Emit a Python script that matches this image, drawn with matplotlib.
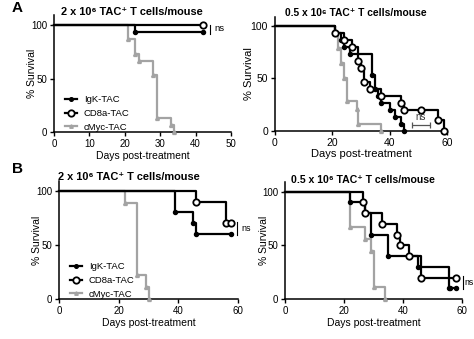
import matplotlib
matplotlib.use("Agg")
import matplotlib.pyplot as plt
from matplotlib.lines import Line2D

plt.rcParams['font.family'] = ['Liberation Sans', 'DejaVu Sans']

# survival curves: time points and % survival after each point (step 'post')
# panel A, 2 x 10^6
a1_igk_t = [0, 23, 42]
a1_igk_s = [100, 93.3, 93.3]
a1_cd8_t = [0, 42]
a1_cd8_s = [100, 100]
a1_myc_t = [0, 21, 23, 24, 28, 29, 33, 34]
a1_myc_s = [100, 86.7, 73.3, 66.7, 53.3, 13.3, 6.7, 0]

# panel A, 0.5 x 10^6
a2_igk_t = [0, 21, 23, 24, 26, 34, 35, 36, 37, 40, 42, 44, 45]
a2_igk_s = [100, 93.3, 86.7, 80, 73.3, 53.3, 40, 33.3, 26.7, 20, 13.3, 6.7, 0]
a2_cd8_t = [0, 21, 24, 27, 29, 30, 31, 33, 37, 44, 45, 51, 57, 59]
a2_cd8_s = [100, 93.3, 86.7, 80, 66.7, 60, 46.7, 40, 33.3, 26.7, 20, 20, 10, 0]
a2_myc_t = [0, 21, 22, 23, 24, 25, 28.5, 29, 37]
a2_myc_s = [100, 92.9, 78.6, 64.3, 50, 28.6, 21.4, 7.1, 0]

# panel B, 2 x 10^6
b1_igk_t = [0, 39, 45, 46, 57.5]
b1_igk_s = [100, 80, 70, 60, 60]
b1_cd8_t = [0, 46, 56, 57.5]
b1_cd8_s = [100, 90, 70, 70]
b1_myc_t = [0, 22, 26, 29, 30]
b1_myc_s = [100, 88.9, 22.2, 11.1, 0]

# panel B, 0.5 x 10^6
b2_igk_t = [0, 22, 27, 29, 35, 45, 55.5, 56, 58]
b2_igk_s = [100, 90, 80, 60, 40, 30, 10, 10, 10]
b2_cd8_t = [0, 26.5, 27, 33, 38, 39, 42, 46, 58]
b2_cd8_s = [100, 90, 80, 70, 60, 50, 40, 20, 20]
b2_myc_t = [0, 22, 27, 29, 30, 34]
b2_myc_s = [100, 66.7, 55.6, 44.4, 11.1, 0]

labels = ['IgK-TAC', 'CD8a-TAC', 'cMyc-TAC']
title_hi = '2 x 10⁶ TAC⁺ T cells/mouse'
title_lo = '0.5 x 10⁶ TAC⁺ T cells/mouse'

GRAY = '#a3a3a3'
W, H = 474, 339
fig = plt.figure(figsize=(W / 100, H / 100), dpi=100)


def make_ax(x0, x1, ytop, ybot):
    # pixel box -> figure fraction
    return fig.add_axes([x0 / W, 1 - ybot / H, (x1 - x0) / W, (ybot - ytop) / H])


def km(ax, t, s, color, marker, mfc, ms, lw=1.6):
    ax.step(t, s, where='post', color=color, lw=lw, zorder=3, clip_on=False)
    ax.plot(t[1:], s[1:], ls='none', marker=marker, color=color, mfc=mfc,
            mec=color, ms=ms, mew=1.3, zorder=4, clip_on=False)


def style(ax, xmax, xstep, fs, ylx, xly):
    ax.set_xlim(0, xmax)
    ax.set_ylim(0, 109)
    ax.set_xticks(range(0, xmax + 1, xstep))
    ax.set_yticks([0, 50, 100])
    for sp in ['top', 'right']:
        ax.spines[sp].set_visible(False)
    for sp in ['left', 'bottom']:
        ax.spines[sp].set_linewidth(1.1)
    ax.tick_params(length=3, width=1, pad=2, labelsize=fs)
    ax.set_xlabel('Days post-treatment', fontsize=fs + 0.5)
    ax.set_ylabel('% Survival', fontsize=fs + 0.5)
    ax.xaxis.set_label_coords(0.5, xly)
    ax.yaxis.set_label_coords(ylx, 0.5)


def draw(ax, data):
    (it, is_), (ct, cs), (mt, ms_) = data
    km(ax, mt, ms_, GRAY, '^', GRAY, 2.5)
    km(ax, it, is_, 'black', 'o', 'black', 2.6)
    km(ax, ct, cs, 'black', 'o', 'white', 4.6)


def legend(ax, y0):
    h = [Line2D([], [], color='black', lw=1.6, marker='o', ms=2.6),
         Line2D([], [], color='black', lw=1.6, marker='o', mfc='white', ms=4.6, mew=1.3),
         Line2D([], [], color=GRAY, lw=1.6, marker='^', ms=2.5)]
    ax.legend(h, labels, loc='lower left', bbox_to_anchor=(0.04, y0), frameon=False,
              fontsize=6.8, handlelength=1.3, handletextpad=0.7, labelspacing=0.5,
              borderaxespad=0)


def title(ax, x, y, txt, fs):
    ax.text(x, y, txt, transform=ax.transAxes, ha='center', va='center',
            fontsize=fs, fontweight='bold')


# A left
ax = make_ax(54, 231, 15.4, 132)
draw(ax, [(a1_igk_t, a1_igk_s), (a1_cd8_t, a1_cd8_s), (a1_myc_t, a1_myc_s)])
style(ax, 50, 10, 7, -0.095, -0.165)
title(ax, 0.44, 1.027, title_hi, 7.9)
legend(ax, -0.03)
ax.plot([44, 44], [92, 100], color='black', lw=0.8, clip_on=False)
ax.text(45.2, 96.5, 'ns', fontsize=6.8, va='center')

# A right
ax = make_ax(275, 447, 16.5, 131)
draw(ax, [(a2_igk_t, a2_igk_s), (a2_cd8_t, a2_cd8_s), (a2_myc_t, a2_myc_s)])
style(ax, 60, 20, 7.5, -0.12, -0.155)
title(ax, 0.47, 1.033, title_lo, 7.4)
ax.errorbar([50.8], [5.7], xerr=[[3.1], [3.1]], color='#555555', lw=0.9,
            capsize=2, capthick=0.9)
ax.text(50.8, 8.5, 'ns', fontsize=7, ha='center', va='bottom', color='#333333')

# B left
ax = make_ax(59, 238, 181, 299)
draw(ax, [(b1_igk_t, b1_igk_s), (b1_cd8_t, b1_cd8_s), (b1_myc_t, b1_myc_s)])
style(ax, 60, 20, 7, -0.093, -0.16)
title(ax, 0.39, 1.031, title_hi, 7.9)
legend(ax, -0.03)
ax.plot([59.5, 59.5], [59, 71], color='black', lw=0.8, clip_on=False)
ax.text(61.3, 65, 'ns', fontsize=6.5, va='center')

# B right
ax = make_ax(285, 462, 182, 299)
draw(ax, [(b2_igk_t, b2_igk_s), (b2_cd8_t, b2_cd8_s), (b2_myc_t, b2_myc_s)])
style(ax, 60, 20, 7, -0.093, -0.16)
title(ax, 0.44, 1.017, title_lo, 7.6)
ax.plot([60.3, 60.3], [9, 21], color='black', lw=0.8, clip_on=False)
ax.text(60.9, 15, 'ns', fontsize=6.3, va='center')

fig.text(12 / W, 1 - 8 / H, 'A', fontsize=11, fontweight='bold', va='center')
fig.text(12 / W, 1 - 169 / H, 'B', fontsize=11, fontweight='bold', va='center')

fig.savefig('out.png', dpi=100)
